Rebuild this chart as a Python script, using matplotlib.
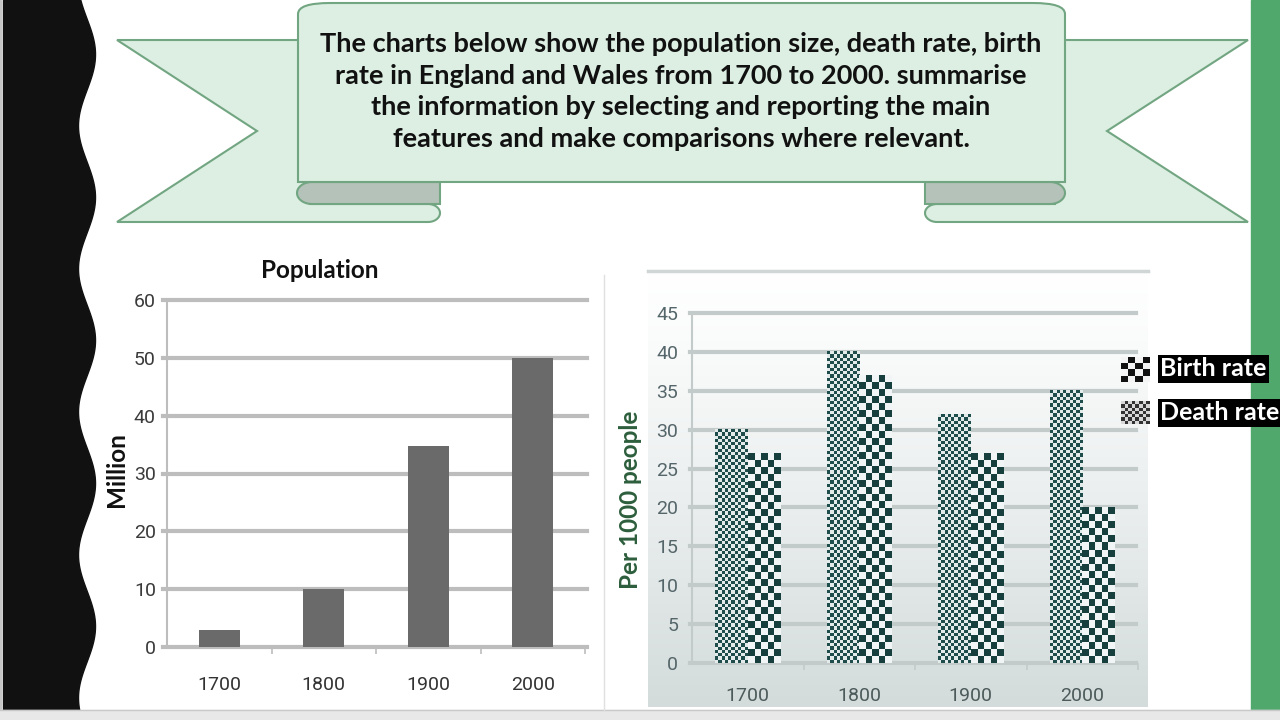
import numpy as np
import matplotlib
matplotlib.use("Agg")
from matplotlib import pyplot as plt
from matplotlib.patches import Polygon, Rectangle, PathPatch
from matplotlib.path import Path

# data
years = ["1700", "1800", "1900", "2000"]
population = [3, 10, 34.7, 50]
birth_rate = [30, 40, 32, 35]
death_rate = [27, 37, 27, 20]
title_lines = [
    "The charts below show the population size, death rate, birth",
    "rate in England and Wales from 1700 to 2000. summarise",
    "the information by selecting and reporting the main",
    "features and make comparisons where relevant.",
]

HEAD = ["Lato", "DejaVu Sans"]
NARROW = ["Roboto", "DejaVu Sans"]
RIB_FILL = "#dcefe2"
RIB_EDGE = "#72a581"


def checker(ny, nx, dark, light):
    g = np.add.outer(np.arange(ny), np.arange(nx)) % 2
    d = np.array(matplotlib.colors.to_rgb(dark))
    l = np.array(matplotlib.colors.to_rgb(light))
    return np.where(g[..., None] == 1, d, l)


def ellipse_arc(cx, cy, rx, ry, a0, a1, n=30):
    t = np.radians(np.linspace(a0, a1, n))
    return list(zip(cx + rx * np.cos(t), cy + ry * np.sin(t)))


fig = plt.figure(figsize=(12.8, 7.2), dpi=100)
bg = fig.add_axes([0, 0, 1, 1])
bg.set_xlim(0, 1280)
bg.set_ylim(720, 0)
bg.set_autoscale_on(False)
bg.axis("off")

# wavy black border on the left
ys = np.linspace(0, 712, 600)
xs = 86.5 + 8.5 * np.cos(2 * np.pi * (ys - 340) / 143)
bg.fill_betweenx(ys, 3, xs, color="#111111", zorder=1)
bg.plot([1, 1], [0, 712], color="#bbbbbb", lw=1.2, zorder=1)

# green strip on the right, grey strip at the bottom
bg.add_patch(Rectangle((1251, 0), 29, 710, color="#50a86c", zorder=1))
bg.add_patch(Rectangle((0, 710), 1280, 10, color="#e8e8e8", zorder=1))
bg.plot([0, 1280], [710, 710], color="#c8c8c8", lw=1, zorder=1)
bg.plot([604, 604], [275, 710], color="#e0e0e0", lw=1, zorder=1)

# ribbon: back pieces
left_back = [(117, 40), (310, 40), (310, 204), (428, 204)] + \
    ellipse_arc(428, 213, 12, 9, -90, 90) + [(428, 222), (117, 222), (257, 131)]
right_back = [(1248, 40), (1055, 40), (1055, 204), (937, 204)] + \
    ellipse_arc(937, 213, 12, 9, 270, 90) + [(937, 222), (1248, 222), (1107, 131)]
for pts in (left_back, right_back):
    bg.add_patch(Polygon(pts, closed=True, fc=RIB_FILL, ec=RIB_EDGE, lw=1.5, zorder=2))

# curls (grey underside)
left_curl = [(440, 182), (312, 182)] + ellipse_arc(312, 193, 15, 11, 270, 90) + [(440, 204)]
right_curl = [(925, 182), (1050, 182)] + ellipse_arc(1050, 193, 15, 11, -90, 90) + [(925, 204)]
for pts in (left_curl, right_curl):
    bg.add_patch(Polygon(pts, closed=True, fc="#b5c2b9", ec=RIB_EDGE, lw=1.5, zorder=3))

# front of the scroll
verts = [(298, 182), (298, 14), (298, 3), (330, 3), (1033, 3), (1065, 3), (1065, 14),
         (1065, 182), (298, 182)]
codes = [Path.MOVETO, Path.LINETO, Path.CURVE3, Path.CURVE3, Path.LINETO,
         Path.CURVE3, Path.CURVE3, Path.LINETO, Path.CLOSEPOLY]
bg.add_patch(PathPatch(Path(verts, codes), fc=RIB_FILL, ec=RIB_EDGE, lw=1.5, zorder=4))

for i, line in enumerate(title_lines):
    bg.text(681, 44 + 31.7 * i, line, ha="center", va="center", fontsize=19.5,
            fontweight="bold", family=HEAD, color="#111111", zorder=5)

# gradient panel behind the rate chart
grad_t = np.linspace(0, 1, 200) ** 1.2
top = np.array([1.0, 1.0, 1.0])
bot = np.array(matplotlib.colors.to_rgb("#d3dbdb"))
grad = (top + (bot - top) * grad_t[:, None])[:, None, :]
bg.imshow(grad, extent=[648, 1148, 707, 270], aspect="auto", zorder=1.5)
bg.plot([648, 1148], [271, 271], color="#d0d6d6", lw=2.5, zorder=1.6)

# ---- population chart
ax1 = fig.add_axes([167 / 1280, 73 / 720, 418 / 1280, 347 / 720])
ax1.patch.set_alpha(0)
x = np.arange(len(years))
ax1.bar(x, population, width=0.39, color="#6a6a6a", zorder=3)
ax1.set_xlim(-0.5, 3.5)
ax1.set_ylim(0, 60)
ax1.set_yticks(range(0, 61, 10))
for v in range(0, 61, 10):
    ax1.axhline(v, xmin=-0.01, xmax=1.005, color="#bdbdbd", lw=3, zorder=1, clip_on=False)
for s in ["top", "right", "bottom"]:
    ax1.spines[s].set_visible(False)
ax1.spines["left"].set_color("#bdbdbd")
ax1.spines["left"].set_linewidth(1.5)
ax1.set_xticks(x)
ax1.set_xticklabels(years)
ax1.set_xticks([0.5, 1.5, 2.5, 3.5], minor=True)
ax1.tick_params(axis="y", length=0, pad=8, labelsize=14, labelcolor="#3a3a3a")
ax1.tick_params(axis="x", which="major", length=0, pad=21, labelsize=14, labelcolor="#333333")
ax1.tick_params(axis="x", which="minor", length=5, width=1.2, color="#bdbdbd")
for lab in ax1.get_xticklabels() + ax1.get_yticklabels():
    lab.set_family(NARROW)

bg.text(320, 270, "Population", ha="center", va="center", fontsize=17.5,
        fontweight="bold", family=HEAD, color="#111111", zorder=5)
bg.text(117, 470, "Million", ha="center", va="center", rotation=90, fontsize=17.5,
        fontweight="bold", family=HEAD, color="#111111", zorder=5)

# ---- rates chart
ax2 = fig.add_axes([692 / 1280, 57 / 720, 446 / 1280, 350 / 720])
ax2.patch.set_alpha(0)
ax2.set_xlim(-0.5, 3.5)
ax2.set_ylim(0, 45)
px_x = 446 / 4.0
px_y = 350 / 45.0
bw = 0.29
b_bars = ax2.bar(x - bw / 2, birth_rate, width=bw, facecolor="none", edgecolor="none", zorder=3)
d_bars = ax2.bar(x + bw / 2, death_rate, width=bw, facecolor="none", edgecolor="none", zorder=3)
for bars, cell, dark, light in ((b_bars, 3.3, "#1f4d4b", "#e4ebeb"),
                                (d_bars, 7.0, "#163f3d", "#f2f5f5")):
    for b in bars:
        x0, w, h = b.get_x(), b.get_width(), b.get_height()
        nx = max(1, int(round(w * px_x / cell)))
        ny = max(1, int(round(h * px_y / cell)))
        ax2.imshow(checker(ny, nx, dark, light), extent=[x0, x0 + w, 0, h], origin="lower",
                   interpolation="nearest", aspect="auto", zorder=3)
ax2.set_xlim(-0.5, 3.5)
ax2.set_ylim(0, 45)
ax2.set_yticks(range(0, 46, 5))
for v in range(0, 46, 5):
    ax2.axhline(v, xmin=-0.005, xmax=0.995, color="#c2caca", lw=3, zorder=1, clip_on=False)
for s in ["top", "right", "bottom"]:
    ax2.spines[s].set_visible(False)
ax2.spines["left"].set_color("#c2caca")
ax2.spines["left"].set_linewidth(1.5)
ax2.set_xticks(x)
ax2.set_xticklabels(years)
ax2.set_xticks([0.5, 1.5, 2.5, 3.5], minor=True)
ax2.tick_params(axis="y", length=0, pad=10, labelsize=14, labelcolor="#55666a")
ax2.tick_params(axis="x", which="major", length=0, pad=17, labelsize=14, labelcolor="#4c5a5a")
ax2.tick_params(axis="x", which="minor", length=5, width=1.2, color="#c2caca")
for lab in ax2.get_xticklabels() + ax2.get_yticklabels():
    lab.set_family(NARROW)

bg.text(630, 500, "Per 1000 people", ha="center", va="center", rotation=90, fontsize=17.5,
        fontweight="bold", family=HEAD, color="#2d5e3c", zorder=5)

# legend
bg.imshow(checker(4, 4, "#111111", "#f4f4f4"), extent=[1121, 1150, 382, 357],
          interpolation="nearest", aspect="auto", zorder=5)
bg.imshow(checker(7, 8, "#333333", "#d8d8d8"), extent=[1121, 1150, 424, 401],
          interpolation="nearest", aspect="auto", zorder=5)
bg.text(1160, 369, "Birth rate", ha="left", va="center", fontsize=18, fontweight="bold",
        family=HEAD, color="white", zorder=6,
        bbox=dict(boxstyle="square,pad=0.1", fc="black", ec="none"))
bg.text(1160, 413, "Death rate", ha="left", va="center", fontsize=18, fontweight="bold",
        family=HEAD, color="white", zorder=6,
        bbox=dict(boxstyle="square,pad=0.1", fc="black", ec="none"))

fig.savefig("out.png", dpi=100)
